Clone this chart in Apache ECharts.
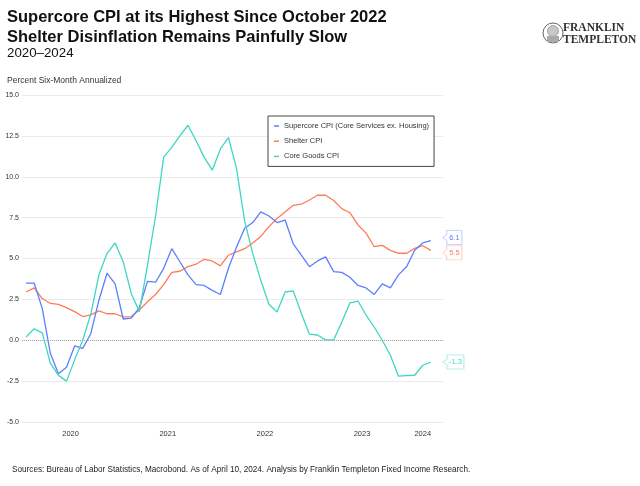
<!DOCTYPE html>
<html><head><meta charset="utf-8">
<script src="https://cdn.jsdelivr.net/npm/echarts@6/dist/echarts.min.js"></script>
<style>html,body{margin:0;padding:0;background:#fff}#c{width:640px;height:486px}</style>
</head><body><div id="c"></div>
<script>
const months = ['Jan 2020','Feb 2020','Mar 2020','Apr 2020','May 2020','Jun 2020','Jul 2020','Aug 2020','Sep 2020','Oct 2020','Nov 2020','Dec 2020',
'Jan 2021','Feb 2021','Mar 2021','Apr 2021','May 2021','Jun 2021','Jul 2021','Aug 2021','Sep 2021','Oct 2021','Nov 2021','Dec 2021',
'Jan 2022','Feb 2022','Mar 2022','Apr 2022','May 2022','Jun 2022','Jul 2022','Aug 2022','Sep 2022','Oct 2022','Nov 2022','Dec 2022',
'Jan 2023','Feb 2023','Mar 2023','Apr 2023','May 2023','Jun 2023','Jul 2023','Aug 2023','Sep 2023','Oct 2023','Nov 2023','Dec 2023',
'Jan 2024','Feb 2024','Mar 2024'];
const supercore = [3.5,3.5,1.95,-0.8,-2.05,-1.65,-0.35,-0.5,0.4,2.45,4.1,3.45,1.3,1.35,2.0,3.6,3.55,4.4,5.6,4.8,4.0,3.4,3.35,3.05,2.8,4.4,5.7,6.85,7.2,7.85,7.6,7.2,7.35,5.9,5.2,4.5,4.85,5.1,4.2,4.15,3.85,3.35,3.2,2.8,3.45,3.2,4.0,4.5,5.5,5.95,6.1];
const shelter = [2.95,3.2,2.55,2.25,2.2,2.0,1.75,1.45,1.55,1.8,1.62,1.62,1.43,1.45,1.85,2.35,2.8,3.4,4.15,4.22,4.5,4.65,4.95,4.85,4.55,5.2,5.4,5.6,5.95,6.35,6.95,7.45,7.85,8.25,8.32,8.58,8.87,8.87,8.55,8.05,7.8,7.05,6.55,5.72,5.8,5.5,5.32,5.32,5.62,5.78,5.5];
const coreGoods = [0.2,0.7,0.45,-1.4,-2.15,-2.5,-1.2,0.0,1.6,4.0,5.3,5.95,4.8,2.85,1.75,4.6,7.6,11.2,11.8,12.5,13.15,12.2,11.2,10.4,11.7,12.4,10.5,7.3,5.3,3.65,2.2,1.73,2.95,3.02,1.65,0.37,0.32,0.02,0.02,1.12,2.28,2.4,1.53,0.81,0.0,-0.92,-2.2,-2.16,-2.14,-1.53,-1.33];
const seriesNames = ['Supercore CPI (Core Services ex. Housing)','Shelter CPI','Core Goods CPI'];
const yearLabels = ['2020','2021','2022','2023','2024'];
const yearLabelPos = [5.5,17.5,29.5,41.5,49];
const yTicks = [-5,-2.5,0,2.5,5,7.5,10,12.5,15];

const FONT = '"Liberation Sans", Arial, sans-serif';
const SERIF = '"Liberation Serif", "DejaVu Serif", serif';
const C = {blue:'#5b7fff', orange:'#ff7b57', teal:'#3fd6c2'};
const B = {blue:'#c9d5ff', orange:'#ffd0c3', teal:'#b6efe7'};
const pairs = arr => arr.map((v,i)=>[i,v]);

function endMark(arr,color,border,w,offY){
  const last = arr.length-1;
  return {
    silent:true,
    symbol:'path://M4,0L20,0L20,14L4,14L4,10L0,7L4,4Z',
    symbolSize:[w,14],
    symbolOffset:[12 + w/2, offY],
    itemStyle:{color:'#fff', borderColor:border, borderWidth:1},
    label:{show:true, position:'inside', offset:[2,0], color:color, fontSize:7.5, fontFamily:FONT, formatter:p=>p.value},
    data:[{coord:[last, arr[last]], value: arr[last].toFixed(1)}]
  };
}

const chart = echarts.init(document.getElementById('c'));
chart.setOption({
  animation:false,
  backgroundColor:'#fff',
  grid:{left:22, right:197, top:95, bottom:64, containLabel:false},
  xAxis:{
    type:'value', min:-0.5, max:51.5, interval:0.5,
    axisLine:{show:false}, axisTick:{show:false}, splitLine:{show:false},
    axisLabel:{show:true, margin:8, fontSize:7.5, color:'#333', fontFamily:FONT, showMinLabel:true, showMaxLabel:true,
      formatter:v=>{const k=yearLabelPos.indexOf(v); return k>=0?yearLabels[k]:'';}}
  },
  yAxis:{
    type:'value', min:yTicks[0], max:yTicks[yTicks.length-1], interval:2.5,
    axisLine:{show:false}, axisTick:{show:false},
    splitLine:{show:true, lineStyle:{color:'#ebebeb', width:1}},
    axisLabel:{margin:3, fontSize:7, color:'#333', fontFamily:FONT, formatter:v=>v.toFixed(1)}
  },
  legend:{
    orient:'vertical', left:268, top:116,
    data:seriesNames, icon:'rect', itemWidth:5, itemHeight:1.5, itemGap:7.2,
    padding:[6,5,6,6], borderColor:'#444', borderWidth:1, backgroundColor:'#fff',
    textStyle:{fontSize:7.5, color:'#333', fontFamily:FONT}
  },
  series:[
    {type:'line', name:seriesNames[0], data:pairs(supercore), symbol:'none', lineStyle:{width:1.3, color:C.blue}, itemStyle:{color:C.blue}, z:3,
      markLine:{silent:true, symbol:'none', label:{show:false}, lineStyle:{type:'dotted', color:'#aaa', width:1}, data:[{yAxis:0}]},
      markPoint:endMark(supercore,C.blue,B.blue,19,-3)},
    {type:'line', name:seriesNames[1], data:pairs(shelter), symbol:'none', lineStyle:{width:1.3, color:C.orange}, itemStyle:{color:C.orange}, z:2,
      markPoint:endMark(shelter,C.orange,B.orange,19,2.5)},
    {type:'line', name:seriesNames[2], data:pairs(coreGoods), symbol:'none', lineStyle:{width:1.3, color:C.teal}, itemStyle:{color:C.teal}, z:4,
      markPoint:endMark(coreGoods,C.teal,B.teal,21,0)}
  ],
  graphic:[
    {type:'text', left:7, top:8.5, style:{text:'Supercore CPI at its Highest Since October 2022', font:'bold 16.5px '+FONT, fill:'#111'}},
    {type:'text', left:7, top:28.5, style:{text:'Shelter Disinflation Remains Painfully Slow', font:'bold 16.5px '+FONT, fill:'#111'}},
    {type:'text', left:7, top:46.5, style:{text:'2020–2024', font:'13.3px '+FONT, fill:'#111'}},
    {type:'text', left:7, top:76, style:{text:'Percent Six-Month Annualized', font:'8.5px '+FONT, fill:'#333'}},
    {type:'text', left:12, top:465.5, style:{text:'Sources: Bureau of Labor Statistics, Macrobond. As of April 10, 2024. Analysis by Franklin Templeton Fixed Income Research.', font:'8.2px '+FONT, fill:'#222'}},
    {type:'circle', shape:{cx:553, cy:33, r:10}, style:{fill:'#fff', stroke:'#666', lineWidth:1}},
    {type:'circle', shape:{cx:553, cy:31, r:5.5}, style:{fill:'#c8c8c8', stroke:'#777', lineWidth:0.6}},
    {type:'rect', shape:{x:547, y:36, width:12, height:6}, style:{fill:'#aaa'}},
    {type:'text', left:563, top:22, style:{text:'FRANKLIN', font:'bold 11.5px '+SERIF, fill:'#333'}},
    {type:'text', left:563, top:34, style:{text:'TEMPLETON', font:'bold 11.5px '+SERIF, fill:'#333'}}
  ]
});
</script></body></html>
